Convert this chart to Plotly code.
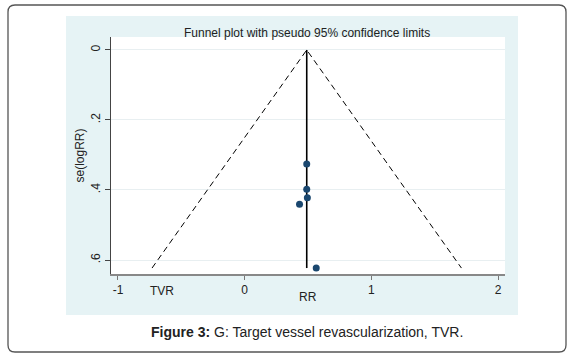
import plotly.graph_objects as go

# ---- data ----
log_rr = [0.49, 0.49, 0.495, 0.433, 0.565]
se_log_rr = [0.326, 0.398, 0.422, 0.441, 0.623]
pooled = 0.49
se_max = 0.623
z95 = 1.96
x_ticks = [-1, 0, 1, 2]
x_tick_labels = ["-1", "0", "1", "2"]
y_ticks = [0, 0.2, 0.4, 0.6]
y_tick_labels = ["0", ".2", ".4", ".6"]

W, H = 573, 358
L, R, T, B = 111, 505, 37, 274  # plot area in pixels


def px(xp):
    return (xp - L) / (R - L)


def py(yp):
    return (B - yp) / (B - T)


FONT = "Liberation Sans, Arial, sans-serif"

fig = go.Figure()

# pseudo 95% limits
fig.add_trace(go.Scatter(
    x=[pooled - z95 * se_max, pooled, pooled + z95 * se_max],
    y=[se_max, 0, se_max],
    mode="lines",
    line=dict(color="black", width=1, dash="6px,4px"),
    hoverinfo="skip", showlegend=False))

# pooled estimate line
fig.add_trace(go.Scatter(
    x=[pooled, pooled], y=[0, se_max], mode="lines",
    line=dict(color="black", width=1.6), hoverinfo="skip", showlegend=False))

# studies
fig.add_trace(go.Scatter(
    x=log_rr, y=se_log_rr, mode="markers",
    marker=dict(color="#1a476f", size=7), showlegend=False))

shapes = []
# outer rounded frame
x0, x1, y0, y1 = 8, 566, 5, 352
r = 7
def P(a, b):
    return f"{px(a):.5f},{py(b):.5f}"
path = (f"M {P(x0 + r, y0)} L {P(x1 - r, y0)} Q {P(x1, y0)} {P(x1, y0 + r)} "
        f"L {P(x1, y1 - r)} Q {P(x1, y1)} {P(x1 - r, y1)} "
        f"L {P(x0 + r, y1)} Q {P(x0, y1)} {P(x0, y1 - r)} "
        f"L {P(x0, y0 + r)} Q {P(x0, y0)} {P(x0 + r, y0)} Z")
shapes.append(dict(type="path", xref="paper", yref="paper", path=path,
                   line=dict(color="#555555", width=1.3), fillcolor="white",
                   layer="below"))
# light blue graph region
shapes.append(dict(type="rect", xref="paper", yref="paper",
                   x0=px(66), x1=px(518), y0=py(315), y1=py(16),
                   line=dict(width=0), fillcolor="#e6f3f5", layer="below"))
# white plot region
shapes.append(dict(type="rect", xref="paper", yref="paper",
                   x0=0, x1=1, y0=0, y1=1,
                   line=dict(width=0), fillcolor="white", layer="below"))

annotations = [
    dict(text="Funnel plot with pseudo 95% confidence limits", xref="paper", yref="paper",
         x=px(307), y=py(33), showarrow=False, font=dict(family=FONT, size=12, color="#222"),
         xanchor="center", yanchor="middle"),
    dict(text="TVR", xref="x", yref="paper", x=-0.65, y=py(291), showarrow=False,
         font=dict(family=FONT, size=12, color="#222"), xanchor="center", yanchor="middle"),
    dict(text="RR", xref="paper", yref="paper", x=px(308), y=py(297), showarrow=False,
         font=dict(family=FONT, size=12, color="#222"), xanchor="center", yanchor="middle"),
    dict(text="<b>Figure 3:</b> G: Target vessel revascularization, TVR.", xref="paper",
         yref="paper", x=px(307), y=py(332), showarrow=False,
         font=dict(family=FONT, size=14, color="#222"), xanchor="center", yanchor="middle"),
]

fig.update_layout(
    template="none",
    width=W, height=H,
    margin=dict(l=L, r=W - R, t=T, b=H - B, pad=0),
    paper_bgcolor="white", plot_bgcolor="white",
    shapes=shapes, annotations=annotations,
    font=dict(family=FONT, size=12, color="#222"),
    xaxis=dict(range=[-1.055, 2.055], tickvals=x_ticks, ticktext=x_tick_labels,
               automargin=False,
               ticks="outside", ticklen=4, tickcolor="#777", showline=True,
               linecolor="#888", linewidth=1.5, showgrid=False, zeroline=False,
               tickfont=dict(size=12)),
    yaxis=dict(range=[0.64, -0.037], tickvals=y_ticks, ticktext=y_tick_labels,
               automargin=False,
               tickangle=-90, ticks="outside", ticklen=5, tickcolor="#444",
               showline=True, linecolor="#444", linewidth=1, showgrid=True,
               gridcolor="#e8eff1", gridwidth=1, zeroline=False,
               title=dict(text="se(logRR)", font=dict(size=12), standoff=2),
               tickfont=dict(size=12)),
)

fig.write_html(
    "out.html",
    config={"displayModeBar": False},
    post_script="document.body.style.margin='0';document.body.style.overflow='hidden';",
)
